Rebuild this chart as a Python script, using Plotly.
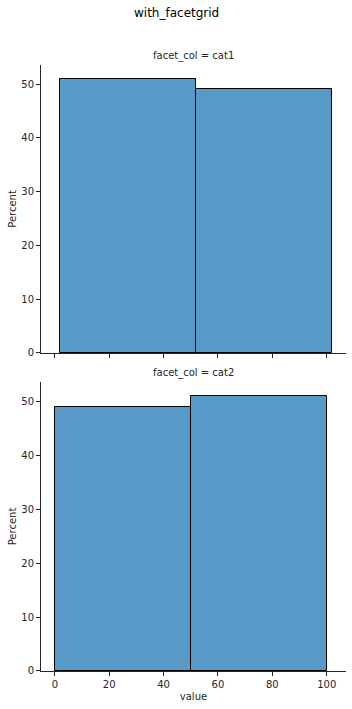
import plotly.graph_objects as go

facets = ["cat1", "cat2"]
bin_edges_cat1 = [2, 52, 102]
bin_edges_cat2 = [0, 50, 100]
percent_cat1 = [51, 49]
percent_cat2 = [49, 51]
x_ticks = [0, 20, 40, 60, 80, 100]
y_ticks = [0, 10, 20, 30, 40, 50]

FILL = "#5799c7"
INK = "#262626"
FONT = "DejaVu Sans"

fig = go.Figure()

data = [(bin_edges_cat1, percent_cat1), (bin_edges_cat2, percent_cat2)]
for i, (edges, vals) in enumerate(data):
    centers = [(edges[j] + edges[j + 1]) / 2 for j in range(len(vals))]
    widths = [edges[j + 1] - edges[j] for j in range(len(vals))]
    fig.add_trace(go.Bar(
        x=centers, y=vals, width=widths,
        marker=dict(color=FILL, line=dict(color="black", width=1)),
        xaxis="x" if i == 0 else "x2",
        yaxis="y" if i == 0 else "y2",
        showlegend=False, hoverinfo="skip",
    ))

ymax = max(percent_cat1 + percent_cat2) * 1.05
xlo = min(bin_edges_cat1 + bin_edges_cat2)
xhi = max(bin_edges_cat1 + bin_edges_cat2)
pad = (xhi - xlo) * 0.05

axis_common = dict(
    showline=True, linecolor=INK, linewidth=1, mirror=False,
    ticks="outside", ticklen=4, tickwidth=1, tickcolor=INK,
    showgrid=False, zeroline=False,
    tickfont=dict(family=FONT, size=10, color=INK),
)

fig.update_layout(
    width=352, height=709,
    margin=dict(l=41, r=6, t=65, b=38),
    paper_bgcolor="white", plot_bgcolor="white",
    bargap=0,
    font=dict(family=FONT, size=10, color=INK),
    xaxis=dict(domain=[0, 1], anchor="y", range=[xlo - pad, xhi + pad],
               tickvals=x_ticks, showticklabels=False, matches="x2", **axis_common),
    yaxis=dict(domain=[0.5248, 1.0], anchor="x", range=[0, ymax], tickvals=y_ticks,
               title=dict(text="Percent", font=dict(family=FONT, size=10, color=INK), standoff=2),
               **axis_common),
    xaxis2=dict(domain=[0, 1], anchor="y2", range=[xlo - pad, xhi + pad],
                tickvals=x_ticks,
                title=dict(text="value", font=dict(family=FONT, size=10, color=INK), standoff=3),
                **axis_common),
    yaxis2=dict(domain=[0, 0.4769], anchor="x2", range=[0, ymax], tickvals=y_ticks,
                title=dict(text="Percent", font=dict(family=FONT, size=10, color=INK), standoff=2),
                **axis_common),
)

paper_h = 709 - 65 - 38
def py(pix_y):
    return (709 - 38 - pix_y) / paper_h

fig.add_annotation(text="with_facetgrid", x=(176 - 41) / (352 - 41 - 6), xref="paper",
                   xanchor="center", y=py(13), yref="paper", yanchor="middle",
                   showarrow=False, font=dict(family=FONT, size=12, color="black"))

for name, ypix in zip(facets, [56, 373]):
    fig.add_annotation(text=f"facet_col = {name}", x=0.5, xref="paper", xanchor="center",
                       y=py(ypix), yref="paper", yanchor="middle", showarrow=False,
                       font=dict(family=FONT, size=10, color=INK))

fig.write_html("out.html")
